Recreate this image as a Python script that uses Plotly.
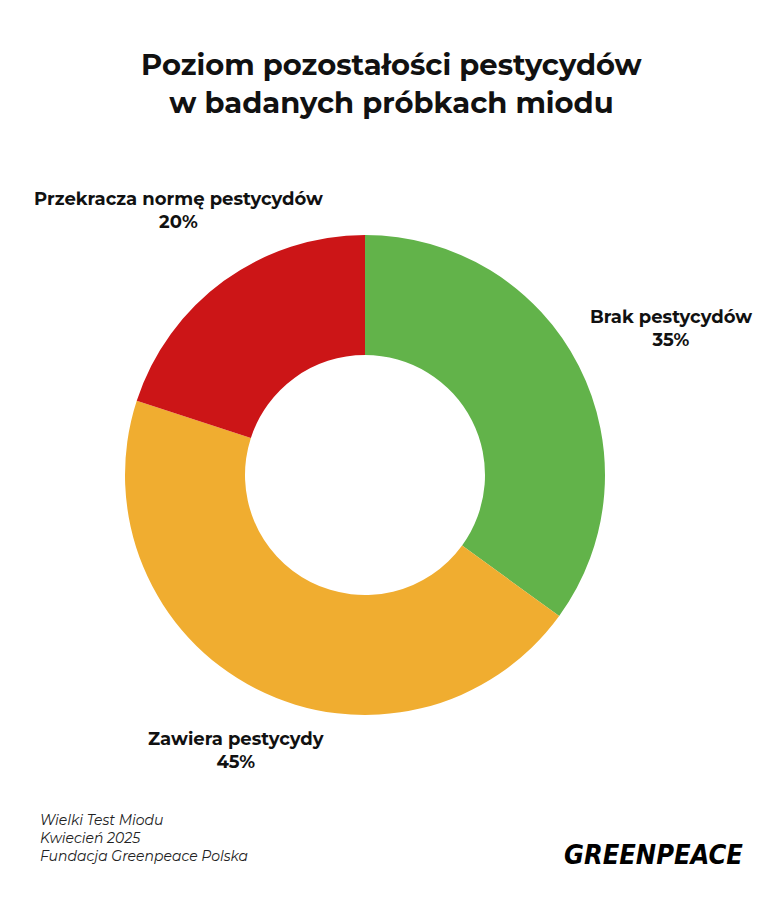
import plotly.graph_objects as go

labels = ["Brak pestycydów", "Zawiera pestycydy", "Przekracza normę pestycydów"]
values = [35, 45, 20]
colors = ["#62B34A", "#F0AD30", "#CC1517"]

W, H = 768, 922
fig = go.Figure(go.Pie(
    labels=labels, values=values, hole=0.5, sort=False, direction="clockwise",
    rotation=0, marker=dict(colors=colors, line=dict(width=0)),
    textinfo="none", hoverinfo="label+percent",
    domain=dict(x=[117/W, 597/W], y=[1-707/H, 1-227/H]),
))

def px(x, y):
    return x / W, 1 - y / H

ann = []
ann.append(dict(text="<b>Poziom pozostałości pestycydów<br>w badanych próbkach miodu</b>",
                x=px(384, 76)[0], y=px(384, 76)[1], font=dict(size=29, color="#111")))
label_pos = {"Brak pestycydów": (663, 320), "Zawiera pestycydy": (228, 742),
             "Przekracza normę pestycydów": (170, 203)}
for l, v in zip(labels, values):
    x, y = px(*label_pos[l])
    ann.append(dict(text=f"<b>{l}<br>{v}%</b>", x=x, y=y, font=dict(size=18, color="#111")))
fx, fy = px(30, 830)
ann.append(dict(text="<i>Wielki Test Miodu<br>Kwiecień 2025<br>Fundacja Greenpeace Polska</i>",
                x=fx, y=fy, xanchor="left", align="left", font=dict(size=14, color="#222")))
gx, gy = px(645, 846)
ann.append(dict(text="<b><i>GREENPEACE</i></b>", x=gx, y=gy,
                font=dict(size=27, color="#000", family="DejaVu Sans Condensed, Arial Black")))
for a in ann:
    a.setdefault("xref", "paper"); a.setdefault("yref", "paper")
    a.setdefault("showarrow", False); a.setdefault("yanchor", "middle")
    a.setdefault("xanchor", "center")
    a["font"].setdefault("family", "Montserrat, Open Sans, sans-serif")

fig.update_layout(width=W, height=H, margin=dict(l=0, r=0, t=0, b=0),
                  paper_bgcolor="white", showlegend=False, annotations=ann,
                  font=dict(family="Open Sans, sans-serif"))
fig.write_html("out.html")
